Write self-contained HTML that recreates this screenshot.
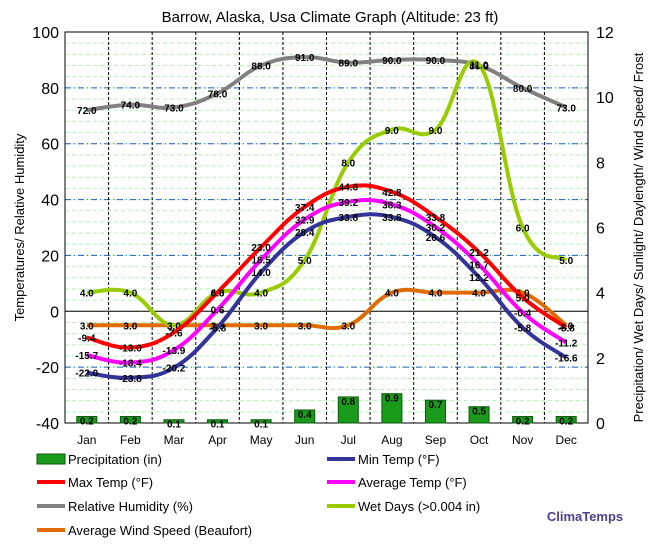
<!DOCTYPE html>
<html><head><meta charset="utf-8"><style>
body{margin:0;background:#fff;font-family:"Liberation Sans",sans-serif;}
</style></head><body>
<svg id="c" width="661" height="543" xmlns="http://www.w3.org/2000/svg" font-family="Liberation Sans, sans-serif"></svg>
<script>
const months=["Jan","Feb","Mar","Apr","May","Jun","Jul","Aug","Sep","Oct","Nov","Dec"];
const precip=[0.2,0.2,0.1,0.1,0.1,0.4,0.8,0.9,0.7,0.5,0.2,0.2];
const minT=[-22.0,-23.8,-20.2,-5.8,14.0,28.4,33.8,33.8,26.6,12.2,-5.8,-16.6];
const maxT=[-9.4,-13.0,-7.6,6.8,23.0,37.4,44.6,42.8,33.8,21.2,5.0,-5.8];
const avgT=[-15.7,-18.4,-13.9,0.6,18.5,32.9,39.2,38.3,30.2,16.7,-0.4,-11.2];
const humidity=[72,74,73,78,88,91,89,90,90,88,80,73];
const wetDays=[4,4,3,4,4,5,8,9,9,11,6,5];
const wind=[3,3,3,3,3,3,3,4,4,4,4,3];
const leftTicks=[-40,-20,0,20,40,60,80,100];
const rightTicks=[0,2,4,6,8,10,12];

const svg=document.getElementById('c');
const NS="http://www.w3.org/2000/svg";
const L=65,R=588,T=32,B=423;
const bw=(R-L)/12;
const xs=i=>L+bw*(i+0.5);
const yL=v=>B-(v+40)/140*(B-T);
const yR=v=>B-v/12*(B-T);
function el(tag,attrs,parent){const e=document.createElementNS(NS,tag);for(const k in attrs)e.setAttribute(k,attrs[k]);(parent||svg).appendChild(e);return e;}
function txt(x,y,s,attrs){const e=el('text',Object.assign({x:x,y:y},attrs||{}));e.textContent=s;return e;}
function smooth(pts){let d=`M${pts[0][0]},${pts[0][1]}`;for(let i=0;i<pts.length-1;i++){const p0=pts[i-1]||pts[i],p1=pts[i],p2=pts[i+1],p3=pts[i+2]||p2;const t=0.2;d+=` C${p1[0]+(p2[0]-p0[0])*t},${p1[1]+(p2[1]-p0[1])*t} ${p2[0]-(p3[0]-p1[0])*t},${p2[1]-(p3[1]-p1[1])*t} ${p2[0]},${p2[1]}`;}return d;}

txt(330,22,"Barrow, Alaska, Usa Climate Graph (Altitude: 23 ft)",{"text-anchor":"middle","font-size":"15"});
// minor grid
for(let v=-40;v<=100;v+=4){const g=el('line',{x1:L,x2:R,y1:yL(v),y2:yL(v),stroke:"#b8f0b8","stroke-dasharray":"4,3","stroke-width":1});
}
for(const v of leftTicks){if(v===0||v===-40||v===100)continue;const g=el('line',{x1:L,x2:R,y1:yL(v),y2:yL(v),stroke:"#1f5fbf","stroke-dasharray":"6,3,1,3","stroke-width":1});
}
for(let i=1;i<12;i++){const g=el('line',{x1:L+bw*i,x2:L+bw*i,y1:T,y2:B,stroke:"#000","stroke-dasharray":"3,2","stroke-width":1});
}
const z=el('line',{x1:L,x2:R,y1:yL(0),y2:yL(0),stroke:"#000"});
const fr=el('rect',{x:L,y:T,width:R-L,height:B-T,fill:"none",stroke:"#000"});
// ticks
leftTicks.forEach(v=>{const t=txt(L-6,yL(v)+6,v,{"text-anchor":"end","font-size":"16"});});
rightTicks.forEach(v=>{const t=txt(R+8,yR(v)+6,v,{"font-size":"16"});});
months.forEach((m,i)=>{const t=txt(xs(i),444,m,{"text-anchor":"middle","font-size":"12"});});
const yt=txt(0,0,"Temperatures/ Relative Humidity",{"font-size":"13","text-anchor":"middle",transform:`translate(24,${(T+B)/2}) rotate(-90)`});
const yt2=txt(0,0,"Precipitation/ Wet Days/ Sunlight/ Daylength/ Wind Speed/ Frost",{"font-size":"13","text-anchor":"middle",transform:`translate(643,${(T+B)/2+10}) rotate(-90)`});
// bars
precip.forEach((v,i)=>{const h=B-yR(v);const r=el('rect',{x:xs(i)-10,y:yR(v),width:20,height:h,fill:"#1a9a1a",stroke:"#0a5a0a"});

const t=txt(xs(i),yR(v)+8,v.toFixed(1),{"text-anchor":"middle","font-size":"10","font-weight":"bold"});});
function series(data,yf,color,name){const pts=data.map((v,i)=>[xs(i),yf(v)]);const p=el('path',{d:smooth(pts),fill:"none",stroke:color,"stroke-width":4});

data.forEach((v,i)=>{const t=txt(xs(i),yf(v)+4,v.toFixed(1),{"text-anchor":"middle","font-size":"10","font-weight":"bold"});});}
series(humidity,yL,"#808080","humidity");
series(wind,yR,"#e06c00","wind");
series(wetDays,yR,"#99cc00","wet-days");
series(minT,yL,"#333399","min-temp");
series(avgT,yL,"#ff00ff","avg-temp");
series(maxT,yL,"#ff0000","max-temp");
// legend
const leg=[["Precipitation (in)","bar",20,459],["Min Temp (°F)","#333399",310,459],["Max Temp (°F)","#ff0000",20,482],["Average Temp (°F)","#ff00ff",310,482],["Relative Humidity (%)","#808080",20,506],["Wet Days (>0.004 in)","#99cc00",310,506],["Average Wind Speed (Beaufort)","#e06c00",20,530]];
leg.forEach(([n,c,x,y])=>{if(c==="bar"){const r=el('rect',{x:x+17,y:y-5,width:28,height:10,fill:"#1a9a1a",stroke:"#0a5a0a"});}
else{const l=el('line',{x1:x+17,x2:x+45,y1:y,y2:y,stroke:c,"stroke-width":4});}
const t=txt(x+48,y+5,n,{"font-size":"13"});});
const br=txt(585,521,"ClimaTemps",{"text-anchor":"middle","font-size":"13","font-weight":"bold",fill:"#4b3f8f"});
</script>
</body></html>
